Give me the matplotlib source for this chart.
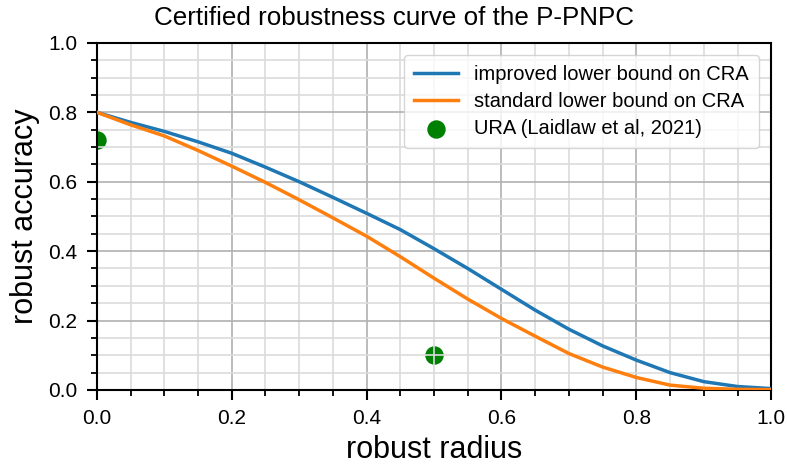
import numpy as np
import matplotlib.pyplot as plt
from matplotlib.ticker import MultipleLocator

plt.rcParams['font.family'] = ['Liberation Sans', 'DejaVu Sans']

# radius values
radius = [0.0, 0.05, 0.1, 0.15, 0.2, 0.25, 0.3, 0.35, 0.4, 0.45, 0.5,
          0.55, 0.6, 0.65, 0.7, 0.75, 0.8, 0.85, 0.9, 0.95, 1.0]
improved = [0.80, 0.771, 0.745, 0.715, 0.682, 0.642, 0.600, 0.555, 0.509, 0.462, 0.407,
            0.350, 0.290, 0.230, 0.175, 0.127, 0.086, 0.050, 0.024, 0.010, 0.004]
standard = [0.80, 0.764, 0.732, 0.690, 0.645, 0.598, 0.548, 0.496, 0.443, 0.384, 0.322,
            0.262, 0.206, 0.155, 0.105, 0.066, 0.036, 0.014, 0.005, 0.002, 0.001]

ura_radius = [0.0, 0.5]
ura_acc = [0.72, 0.10]

fig = plt.figure(figsize=(7.87, 4.71), dpi=100)
ax = fig.add_axes([0.123, 0.172, 0.857, 0.737])

ax.plot(radius, improved, color='#1f77b4', lw=2.5, label='improved lower bound on CRA', zorder=3)
ax.plot(radius, standard, color='#ff7f0e', lw=2.5, label='standard lower bound on CRA', zorder=3)
ax.scatter(ura_radius, ura_acc, s=150, color='green', label='URA (Laidlaw et al, 2021)', zorder=0.5)

ax.set_xlim(0, 1)
ax.set_ylim(0, 1)
ax.xaxis.set_major_locator(MultipleLocator(0.2))
ax.xaxis.set_minor_locator(MultipleLocator(0.05))
ax.yaxis.set_major_locator(MultipleLocator(0.2))
ax.yaxis.set_minor_locator(MultipleLocator(0.05))
ax.grid(which='major', color='#b0b0b0', lw=1.2)
ax.grid(which='minor', color='#dcdcdc', lw=1.2)
ax.set_axisbelow('line')

ax.tick_params(which='major', direction='out', length=7, width=1.5, labelsize=15, pad=7)
ax.tick_params(which='minor', direction='out', length=4, width=1.3)
for s in ax.spines.values():
    s.set_linewidth(1.5)

# title is centred on the figure, not the axes
fig.suptitle('Certified robustness curve of the P-PNPC', x=0.5, y=0.988, va='top', fontsize=18.7)
ax.set_xlabel('robust radius', fontsize=22, labelpad=5)
ax.set_ylabel('robust accuracy', fontsize=22, labelpad=6)

leg = ax.legend(loc='upper right', fontsize=14.5, framealpha=0.8, handlelength=2.2,
                borderpad=0.5, labelspacing=0.4, borderaxespad=0.6)

fig.savefig('out.png', dpi=100)
